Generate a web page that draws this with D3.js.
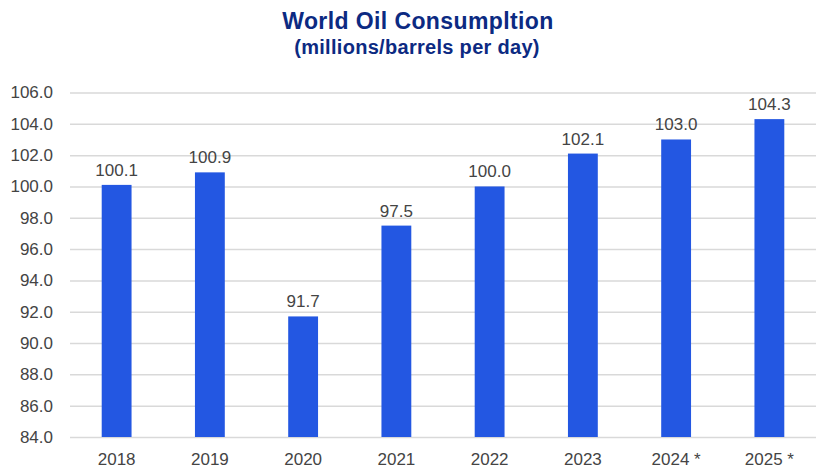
<!DOCTYPE html>
<html>
<head>
<meta charset="utf-8">
<script src="https://cdn.jsdelivr.net/npm/d3@7"></script>
<style>
  body { margin: 0; background: #fff; }
</style>
</head>
<body>
<div id="plot"></div>
<script>
// World oil consumption bar chart

const years = ['2018', '2019', '2020', '2021', '2022', '2023', '2024*', '2025*'];
const consumption = [100.1, 100.9, 91.7, 97.5, 100.0, 102.1, 103.0, 104.3];
const yTicks = [84, 86, 88, 90, 92, 94, 96, 98, 100, 102, 104, 106];

const data = years.map((y, i) => ({year: y, value: consumption[i]}));

const W = 840, H = 472;
const margin = {top: 92.5, right: 24, bottom: 35, left: 70};
const width = W - margin.left - margin.right;
const height = H - margin.top - margin.bottom;

const svg = d3.select("#plot")
  .append("svg")
  .attr("width", W)
  .attr("height", H);

// Title
svg.append("text")
  .attr("x", 418)
  .attr("y", 29)
  .attr("text-anchor", "middle")
  .style("font-family", "'Liberation Sans', Arial, sans-serif")
  .style("font-weight", "700")
  .style("font-size", "23px")
  .style("letter-spacing", "0.4px")
  .style("fill", "#0c2a82")
  .text("World Oil Consumpltion");

svg.append("text")
  .attr("x", 417)
  .attr("y", 54)
  .attr("text-anchor", "middle")
  .style("font-family", "'Liberation Sans', Arial, sans-serif")
  .style("font-weight", "700")
  .style("font-size", "20px")
  .style("letter-spacing", "0.3px")
  .style("fill", "#0c2a82")
  .text("(millions/barrels per day)");

const g = svg.append("g")
  .attr("transform", `translate(${margin.left},${margin.top})`);

const xScale = d3.scaleBand()
  .domain(years)
  .range([0, width])
  .paddingInner(0.68)
  .paddingOuter(0.34);

const yScale = d3.scaleLinear()
  .domain([84, 106])
  .range([height, 0]);

// Gridlines + y labels
const yAxis = d3.axisLeft(yScale)
  .tickValues(yTicks)
  .tickSize(-width)
  .tickPadding(17)
  .tickFormat(d3.format(".1f"));

g.append("g")
  .attr("class", "y-axis")
  .call(yAxis)
  .call(a => a.select(".domain").remove())
  .call(a => a.selectAll("line").attr("stroke", "#d9d9d9").attr("stroke-width", 1.5))
  .call(a => a.selectAll("text")
    .style("font-family", "'Liberation Sans', Arial, sans-serif")
    .style("font-size", "17px")
    .style("fill", "#444"));

// Bars
g.selectAll(".bar")
  .data(data)
  .enter()
  .append("rect")
  .attr("class", "bar")
  .attr("x", d => xScale(d.year))
  .attr("y", d => yScale(d.value))
  .attr("width", xScale.bandwidth())
  .attr("height", d => height - yScale(d.value))
  .attr("fill", "#2357e2");

// Value labels
g.selectAll(".label")
  .data(data)
  .enter()
  .append("text")
  .attr("class", "label")
  .attr("x", d => xScale(d.year) + xScale.bandwidth() / 2)
  .attr("y", d => yScale(d.value) - 9)
  .attr("text-anchor", "middle")
  .style("font-family", "'Liberation Sans', Arial, sans-serif")
  .style("font-size", "17px")
  .style("fill", "#444")
  .text(d => d3.format(".1f")(d.value));

// X axis labels
const xAxis = d3.axisBottom(xScale).tickSize(0).tickPadding(16);

g.append("g")
  .attr("class", "x-axis")
  .attr("transform", `translate(0,${height})`)
  .call(xAxis)
  .call(a => a.select(".domain").remove())
  .call(a => a.selectAll("text")
    .style("font-family", "'Liberation Sans', Arial, sans-serif")
    .style("font-size", "17px")
    .style("fill", "#444")
    .text(d => d.replace("*", " *")));
</script>
</body>
</html>
